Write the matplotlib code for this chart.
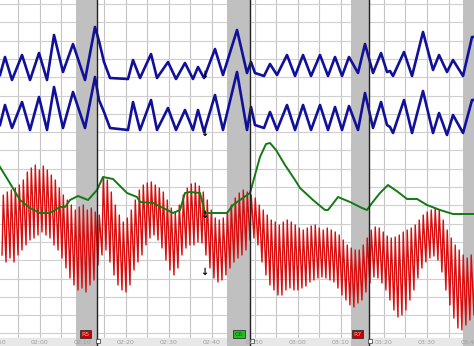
import numpy as np
import matplotlib.pyplot as plt

# chart time in seconds; trace values (larger = lower on screen)
pn_t = [110.70, 111.86, 113.49, 115.82, 117.68, 119.77, 121.63, 123.26, 125.35, 127.68,
        130.47, 132.79, 133.72, 134.89, 136.28, 140.47, 141.63, 143.26, 145.82, 147.21,
        149.77, 151.63, 153.72, 155.58, 156.75, 158.14, 160.70, 162.56, 165.82, 168.14,
        169.07, 170.00, 172.10, 173.49, 175.12, 177.44, 179.31, 181.17, 183.03, 185.12,
        186.98, 188.61, 190.24, 191.86, 193.96, 195.58, 197.45, 199.31, 200.70, 201.40,
        202.10, 204.65, 206.52, 209.07, 211.40, 212.80, 214.65, 216.05, 218.38, 220.47,
        220.93]
pn_upper = [75, 57, 80, 55, 80, 53, 80, 35, 72, 44,
            80, 27, 41, 62, 78, 79, 60, 78, 54, 78,
            62, 79, 63, 79, 67, 78, 49, 75, 30, 73,
            62, 73, 76, 64, 75, 55, 76, 55, 76, 55,
            76, 57, 76, 57, 73, 44, 73, 53, 72, 71,
            76, 52, 76, 32, 70, 55, 72, 60, 76, 37,
            37]
pn_lower = [125, 105, 128, 102, 130, 97, 130, 87, 128, 92,
            128, 77, 100, 112, 128, 130, 102, 130, 100, 130,
            108, 130, 110, 130, 110, 132, 95, 130, 72, 130,
            107, 125, 128, 112, 130, 105, 130, 105, 130, 105,
            130, 107, 130, 106, 130, 93, 128, 102, 125, 127,
            133, 100, 133, 91, 133, 113, 135, 115, 133, 100,
            100]

eda_t = [110.70, 112.56, 115.35, 117.68, 120.00, 122.33, 124.65, 125.82, 126.98, 128.84,
         131.17, 133.26, 134.65, 136.98, 140.24, 142.56, 143.26, 146.28, 149.54, 150.93,
         152.56, 153.72, 154.89, 157.21, 158.37, 163.49, 164.89, 166.51, 168.84, 170.00,
         171.16, 172.56, 173.49, 174.89, 176.98, 179.31, 180.47, 183.49, 186.28, 186.98,
         189.31, 192.10, 194.89, 196.05, 197.21, 199.07, 200.93, 203.26, 205.35, 207.68,
         210.00, 213.02, 216.05, 220.93]
eda = [167, 180, 200, 208, 213, 213, 207, 207, 200, 196,
       200, 190, 177, 179, 193, 197, 202, 203, 210, 213,
       210, 193, 192, 193, 213, 213, 205, 200, 193, 175,
       157, 144, 143, 150, 165, 180, 188, 200, 210, 210,
       197, 202, 208, 210, 203, 193, 185, 192, 199, 199,
       205, 210, 214, 214]

# cardio: one systolic peak and one diastolic trough per beat
cardio_start = 111.17
beat_sec = 0.93
cardio_top = [195, 192, 190, 188, 185, 180, 172, 168, 165, 170,
              166, 170, 175, 180, 188, 195, 200, 205, 210, 207,
              205, 210, 208, 212, 215, 178, 180, 192, 205, 215,
              222, 218, 210, 200, 190, 185, 183, 182, 185, 188,
              192, 200, 208, 212, 205, 195, 188, 184, 183, 186,
              192, 200, 210, 218, 220, 218, 212, 205, 198, 193,
              190, 192, 195, 198, 205, 210, 215, 220, 222, 225,
              222, 220, 222, 225, 228, 230, 228, 226, 225, 228,
              230, 228, 230, 232, 235, 240, 245, 248, 250, 250,
              245, 238, 230, 227, 228, 232, 236, 238, 237, 235,
              232, 230, 228, 225, 220, 215, 212, 210, 208, 210,
              220, 230, 238, 245, 250, 255, 258, 255, 252]
cardio_bottom = [255, 262, 258, 262, 255, 250, 245, 240, 238, 235,
                 232, 235, 238, 245, 250, 258, 268, 278, 285, 290,
                 288, 292, 285, 280, 265, 255, 250, 262, 275, 285,
                 290, 292, 285, 270, 262, 255, 245, 238, 235, 240,
                 248, 260, 270, 275, 268, 255, 248, 245, 245, 242,
                 243, 255, 268, 278, 282, 280, 275, 268, 262, 258,
                 255, 250, 240, 238, 245, 262, 275, 285, 290, 295,
                 295, 290, 288, 290, 290, 288, 286, 282, 280, 278,
                 277, 278, 280, 282, 288, 295, 300, 305, 307, 303,
                 300, 292, 283, 277, 278, 283, 290, 300, 310, 317,
                 315, 310, 300, 290, 278, 268, 262, 258, 256, 260,
                 272, 290, 305, 318, 328, 330, 325, 320, 315]

bands = [(128.37, 133.30), (163.49, 168.90), (192.26, 196.55), (218.37, 222.0)]
marks = [133.30, 168.90, 196.55]
questions = ['R5', 'C6', 'R7']
question_t = [130.58, 166.28, 193.84]
question_face = ['#cc0000', '#1fc01f', '#c80000']
question_text = ['#ffaaaa', '#0a5a0a', '#ffaaaa']
arrow_t = 158.2
arrow_y = [75, 133, 215, 272]
tick_t = [110, 120, 130, 140, 150, 160, 170, 180, 190, 200, 210, 220]
tick_lbl = ['01:50', '02:00', '02:10', '02:20', '02:30', '02:40',
            '02:50', '03:00', '03:10', '03:20', '03:30', '03:40']

fig = plt.figure(figsize=(4.74, 3.46), dpi=100)
ax = fig.add_axes([0, 0, 1, 1])
ax.set_xlim(110.7, 220.93)
ax.set_ylim(346, 0)
ax.axis('off')

# grid
for gx in np.arange(115, 221, 5):
    ax.axvline(gx, color='#c4c4c4', lw=0.8, zorder=0)
for gy in np.arange(4, 336, 18.3):
    ax.axhline(gy, color='#cfcfcf', lw=0.8, zorder=0)
ax.axhspan(338, 346, color='#e8e8e8', zorder=0.5)

for a, b in bands:
    ax.axvspan(a, b, color='#c0c0c0', lw=0, zorder=1)
for m in marks:
    ax.axvline(m, color='#202020', lw=1.0, zorder=5)
    ax.plot(m + 0.3, 341, marker='s', ms=3, mfc='white', mec='#303030', mew=0.5, zorder=6)

# traces
ax.plot(pn_t, pn_upper, color='#10109a', lw=1.9, solid_joinstyle='round', zorder=3)
ax.plot(pn_t, pn_lower, color='#10109a', lw=1.9, solid_joinstyle='round', zorder=3)

beat_t = cardio_start + beat_sec * np.arange(len(cardio_top))
ct = np.ravel(np.column_stack([beat_t, beat_t + 0.3]))
cv = np.ravel(np.column_stack([cardio_bottom, cardio_top]))
ax.plot(ct, cv, color='#d80c0c', lw=1.0, zorder=3)

ax.plot(eda_t, eda, color='#137a13', lw=1.4, zorder=4)

for ay in arrow_y:
    ax.text(arrow_t, ay, '↓', fontsize=7, fontweight='bold', color='black',
            ha='center', va='center', zorder=6)

for q, qt, fc, tc in zip(questions, question_t, question_face, question_text):
    ax.text(qt, 334, q, fontsize=4.5, color=tc, ha='center', va='center', zorder=7,
            bbox=dict(boxstyle='square,pad=0.25', fc=fc, ec='#202020', lw=0.5))

for t, lbl in zip(tick_t, tick_lbl):
    ax.text(t, 342.5, lbl, fontsize=4.5, color='#a0a0a0', ha='center', va='center', zorder=7)

fig.savefig('out.png', dpi=100)
